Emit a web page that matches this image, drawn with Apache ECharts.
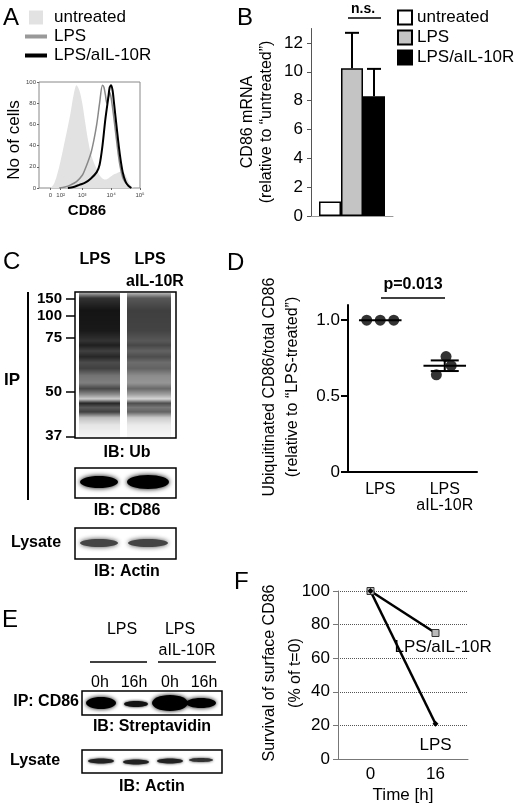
<!DOCTYPE html>
<html><head><meta charset="utf-8">
<script src="https://cdn.jsdelivr.net/npm/echarts@6/dist/echarts.min.js"></script>
<style>html,body{margin:0;padding:0;background:#fff}#c{width:520px;height:812px}</style>
</head><body><div id="c"></div>
<script>
// ---- Panel A: flow histogram (x in log10 units) ----
const histUntreated=[[1.9,0],[2.0,3],[2.1,10],[2.2,20],[2.3,32],[2.4,45],[2.5,58],[2.6,72],[2.7,88],[2.8,97],[2.9,92],[3.0,80],[3.1,62],[3.2,45],[3.3,32],[3.4,24],[3.5,18],[3.6,12],[3.7,9],[3.8,8],[3.9,9],[4.0,11],[4.1,13],[4.2,14],[4.3,15],[4.4,15],[4.5,12],[4.6,6],[4.7,2],[4.8,0]];
const histLPS=[[2.2,0],[2.4,1],[2.6,3],[2.8,6],[3.0,12],[3.1,18],[3.2,25],[3.3,33],[3.4,45],[3.5,60],[3.6,80],[3.7,97],[3.75,95],[3.8,88],[3.85,80],[3.9,85],[3.95,90],[4.0,85],[4.1,65],[4.2,42],[4.3,22],[4.4,10],[4.5,5],[4.6,2],[4.7,0]];
const histAIL=[[2.5,0],[2.7,1],[2.9,3],[3.1,5],[3.3,9],[3.5,15],[3.6,22],[3.7,40],[3.8,65],[3.9,85],[3.95,95],[4.0,97],[4.05,92],[4.1,80],[4.2,55],[4.3,32],[4.4,15],[4.5,6],[4.6,2],[4.7,0]];
const histTickVals=[1.9,2.25,3,4,5];
const histTickLabels=['0','10²','10³','10⁴','10⁵'];
// ---- Panel B: CD86 mRNA ----
const bNames=['untreated','LPS','LPS/aIL-10R'];
const bMeans=[1,10.25,8.3];
const bErrs=[0,2.45,1.9];
// ---- Panel D: ubiquitination ----
const dCats=['LPS','LPS\naIL-10R'];
const dLPS=[1.0,1.0,1.0];
const dAIL=[0.76,0.70,0.64];
const dJitterLPS=[-0.21,0,0.21];
const dJitterAIL=[0.02,0.1,-0.13];
const dMeans=[1.0,0.70];
const dSEM=[0,0.035];
// ---- Panel F: surface survival ----
const fTimes=['0','16'];
const fLPS=[100,21];
const fAIL=[100,75];

const FF='"Liberation Sans", Arial, sans-serif';
const chart=echarts.init(document.getElementById('c'));
const T=(x,y,text,o={})=>({type:'text',x,y,style:Object.assign({text,fontFamily:FF,fontSize:16,fill:'#000',textAlign:'left',textVerticalAlign:'middle'},o.style||{}),rotation:o.rotation||0,z:10});
const TB=(x,y,text,size,align)=>T(x,y,text,{style:{fontWeight:'bold',fontSize:size||16,textAlign:align||'center'}});
const rect=(x,y,w,h)=>({type:'rect',shape:{x,y,width:w,height:h},style:{fill:'none',stroke:'#000',lineWidth:1.5},z:12});
const band=(cx,cy,rx,ry,col,blur)=>({type:'ellipse',shape:{cx,cy,rx,ry},style:{fill:col,shadowBlur:blur||4,shadowColor:col},z:11});
const line=(x1,y1,x2,y2,w)=>({type:'line',shape:{x1,y1,x2,y2},style:{stroke:'#000',lineWidth:w||1.5},z:12});
function laneGrad(k){
  const s=[[0,0.35],[0.035,0.8],[0.12,0.92],[0.26,0.9],[0.33,0.8],[0.36,0.88],[0.4,0.75],[0.44,0.85],[0.48,0.7],[0.52,0.75],[0.57,0.55],[0.62,0.5],[0.66,0.72],[0.7,0.45],[0.73,0.2],[0.76,0.85],[0.79,0.65],[0.82,0.75],[0.86,0.25],[0.91,0.1],[1,0.04]];
  return new echarts.graphic.LinearGradient(0,0,0,1,s.map(([o,a])=>({offset:o,color:'rgba(0,0,0,'+(a*k).toFixed(3)+')'})));
}
const graphics=[
  T(3,18,'A',{style:{fontSize:24}}), T(237,18,'B',{style:{fontSize:24}}),
  T(3,262,'C',{style:{fontSize:24}}), T(227,263,'D',{style:{fontSize:24}}),
  T(2,620,'E',{style:{fontSize:24}}), T(234,582,'F',{style:{fontSize:24}}),
  T(14,140,'No of cells',{rotation:Math.PI/2,style:{fontSize:17,textAlign:'center'}}),
  TB(87,211,'CD86',15),
  T(248,122,'CD86 mRNA',{rotation:Math.PI/2,style:{fontSize:16,textAlign:'center'}}),
  T(267,122,'(relative to “untreated”)',{rotation:Math.PI/2,style:{fontSize:16,textAlign:'center'}}),
  TB(363,9,'n.s.',14), line(348,18,381,18,1.5),
  // C
  TB(95,260,'LPS',16), TB(150,260,'LPS',16), TB(155,282,'aIL-10R',16),
  TB(12,380,'IP',17), line(28,292,28,500,2),
  TB(62,299,'150',15,'right'),TB(62,316,'100',15,'right'),TB(62,338,'75',15,'right'),TB(62,392,'50',15,'right'),TB(62,436,'37',15,'right'),
  line(66,299,75,299),line(66,316,75,316),line(66,338,75,338),line(66,392,75,392),line(66,437,75,437),
  {type:'rect',shape:{x:79,y:293,width:41,height:145},style:{fill:laneGrad(1)},z:11},
  {type:'rect',shape:{x:127,y:293,width:44,height:145},style:{fill:laneGrad(0.82)},z:11},
  rect(75,292,101,146), TB(127,453,'IB: Ub',16),
  band(99,482,19,6,'#000',5), band(148,482,21,7,'#000',5), rect(75,468,101,30), TB(127,511,'IB: CD86',16),
  band(99,543,19,4,'#444',5), band(148,543,20,4,'#444',5), rect(75,528,101,31), TB(36,543,'Lysate',16), TB(127,572,'IB: Actin',16),
  // E
  T(122,630,'LPS',{style:{fontSize:16,textAlign:'center'}}), T(180,630,'LPS',{style:{fontSize:16,textAlign:'center'}}), T(187,651,'aIL-10R',{style:{fontSize:16,textAlign:'center'}}),
  line(90,662,147,662), line(158,662,216,662),
  T(100,683,'0h',{style:{fontSize:16,textAlign:'center'}}),T(134,683,'16h',{style:{fontSize:16,textAlign:'center'}}),T(170,683,'0h',{style:{fontSize:16,textAlign:'center'}}),T(204,683,'16h',{style:{fontSize:16,textAlign:'center'}}),
  band(101,703,15,6,'#000',4), band(136,704,12,3,'#111',3), band(170,703,18,8,'#000',4), band(201,703,15,5,'#000',4),
  rect(82,691,140,24), TB(79,702,'IP: CD86',16,'right'), TB(152,727,'IB: Streptavidin',16),
  band(101,761,13,2.5,'#222',3), band(136,762,13,2.5,'#222',3), band(170,761,13,2.5,'#222',3), band(201,760,12,2,'#333',3),
  rect(82,750,140,23), TB(35,761,'Lysate',16), TB(152,787,'IB: Actin',16),
  // D
  TB(413,285,'p=0.013',16), line(381,298,445,298,1.5),
  T(270,387,'Ubiquitinated CD86/total CD86',{rotation:Math.PI/2,style:{fontSize:16,textAlign:'center'}}),
  T(293,387,'(relative to “LPS-treated”)',{rotation:Math.PI/2,style:{fontSize:16,textAlign:'center'}}),
  // F
  T(270,673,'Survival of surface CD86',{rotation:Math.PI/2,style:{fontSize:16,textAlign:'center'}}),
  T(296,673,'(% of t=0)',{rotation:Math.PI/2,style:{fontSize:16,textAlign:'center'}}),
  T(403,795,'Time [h]',{style:{fontSize:17,textAlign:'center'}})
];
const option={
  animation:false,
  textStyle:{fontFamily:FF},
  graphic:graphics,
  legend:[
    {left:20,top:4,orient:'vertical',itemGap:2,itemWidth:22,itemHeight:14,textStyle:{fontFamily:FF,fontSize:17,color:'#000',padding:[0,0,0,2]},
     formatter:n=>n.slice(2),selectedMode:false,
     data:[{name:'A:untreated',icon:'path://M0,0h14v14h-14z',itemStyle:{color:'#e2e2e2'}},
           {name:'A:LPS',icon:'path://M0,0h22v4h-22z',itemStyle:{color:'#999'}},
           {name:'A:LPS/aIL-10R',icon:'path://M0,0h22v4h-22z',itemStyle:{color:'#000'}}]},
    {left:392,top:4,orient:'vertical',itemGap:3,itemWidth:14,itemHeight:14,textStyle:{fontFamily:FF,fontSize:17,color:'#000'},
     formatter:n=>n.slice(2),selectedMode:false,icon:'rect',
     data:['B:untreated','B:LPS','B:LPS/aIL-10R']}
  ],
  grid:[
    {left:39,top:82,width:101,height:106,show:true,borderColor:'#888',borderWidth:1},
    {left:311,top:28.5,width:82,height:187.5},
    {left:348,top:305,width:129,height:167},
    {left:338,top:591,width:130,height:168}
  ],
  xAxis:[
    {gridIndex:0,type:'value',min:1.5,max:5,axisLine:{show:false},splitLine:{show:false},
     axisTick:{customValues:histTickVals,length:2,lineStyle:{color:'#666'}},
     axisLabel:{customValues:histTickVals,formatter:v=>histTickLabels[histTickVals.indexOf(v)]||'',fontSize:6,color:'#444',margin:4}},
    {gridIndex:1,type:'category',data:[''],axisLine:{lineStyle:{color:'#999'}},axisTick:{show:false},axisLabel:{show:false}},
    {gridIndex:2,type:'category',data:dCats,axisLine:{lineStyle:{color:'#000',width:2}},axisTick:{alignWithLabel:true,length:6,lineStyle:{width:2,color:'#000'}},
     axisLabel:{interval:0,fontSize:16,color:'#000',lineHeight:16,margin:10}},
    {gridIndex:2,type:'value',min:0,max:2,show:false},
    {gridIndex:3,type:'category',data:fTimes,axisLine:{lineStyle:{color:'#777'}},axisTick:{length:5,lineStyle:{color:'#777'}},
     axisLabel:{interval:0,fontSize:17,color:'#000',margin:7}}
  ],
  yAxis:[
    {gridIndex:0,type:'value',min:0,max:100,interval:20,axisLine:{show:false},splitLine:{show:false},
     axisTick:{show:true,length:2,lineStyle:{color:'#666'}},axisLabel:{fontSize:6,color:'#444',margin:3}},
    {gridIndex:1,type:'value',min:0,max:13,axisLine:{show:true,lineStyle:{color:'#555'}},splitLine:{show:false},
     axisTick:{show:true,customValues:[0,2,4,6,8,10,12],length:4,lineStyle:{color:'#555'}},
     axisLabel:{customValues:[0,2,4,6,8,10,12],fontSize:17,color:'#000',margin:8}},
    {gridIndex:2,type:'value',min:0,max:1.1,axisLine:{show:true,lineStyle:{color:'#000',width:2}},splitLine:{show:false},
     axisTick:{show:true,customValues:[0,0.5,1],length:7,lineStyle:{width:2,color:'#000'}},
     axisLabel:{customValues:[0,0.5,1],formatter:v=>v===0?'0':v.toFixed(1),fontSize:17,color:'#000',margin:8}},
    {gridIndex:3,type:'value',min:0,max:100,interval:20,axisLine:{show:true,lineStyle:{color:'#777'}},
     axisTick:{show:true,length:5,lineStyle:{color:'#777'}},
     splitLine:{lineStyle:{type:'dotted',color:'#555'}},axisLabel:{fontSize:17,color:'#000',margin:8}}
  ],
  series:[
    {name:'A:untreated',type:'line',xAxisIndex:0,yAxisIndex:0,data:histUntreated,smooth:0.3,symbol:'none',lineStyle:{width:0},areaStyle:{color:'#e2e2e2',opacity:1},itemStyle:{color:'#e2e2e2'}},
    {name:'A:LPS',type:'line',xAxisIndex:0,yAxisIndex:0,data:histLPS,smooth:0.3,symbol:'none',lineStyle:{width:1.5,color:'#888'},itemStyle:{color:'#888'}},
    {name:'A:LPS/aIL-10R',type:'line',xAxisIndex:0,yAxisIndex:0,data:histAIL,smooth:0.3,symbol:'none',lineStyle:{width:2,color:'#000'},itemStyle:{color:'#000'}},
    ...bNames.map((n,i)=>({name:'B:'+n,type:'bar',xAxisIndex:1,yAxisIndex:1,data:[bMeans[i]],barWidth:22,barGap:'0%',
      itemStyle:{color:['#fff','#c4c4c4','#000'][i],borderColor:'#000',borderWidth:1.5}})),
    {type:'custom',xAxisIndex:1,yAxisIndex:1,z:5,data:bNames.map((n,i)=>[0,bMeans[i],bErrs[i],i-1]),
     renderItem:(p,api)=>{const a=api.coord([0,api.value(1)]),b=api.coord([0,api.value(1)+api.value(2)]);
       if(api.value(2)<=0)return null; const x=a[0]+api.value(3)*22;
       return {type:'group',children:[{type:'line',shape:{x1:x,y1:a[1],x2:x,y2:b[1]},style:{stroke:'#000',lineWidth:2}},
         {type:'line',shape:{x1:x-7,y1:b[1],x2:x+7,y2:b[1]},style:{stroke:'#000',lineWidth:2}}]};}},
    {type:'scatter',xAxisIndex:3,yAxisIndex:2,symbolSize:11,itemStyle:{color:'#000'},z:6,
     data:dLPS.map((v,i)=>[0.5+dJitterLPS[i],v]).concat(dAIL.map((v,i)=>[1.5+dJitterAIL[i],v]))},
    {type:'custom',xAxisIndex:3,yAxisIndex:2,z:5,data:dMeans.map((m,i)=>[0.5+i,m,dSEM[i]]),
     renderItem:(p,api)=>{const c=api.value(0),m=api.value(1),s=api.value(2);
       const L=api.coord([c-0.33,m]),R=api.coord([c+0.33,m]);const ch=[{type:'line',shape:{x1:L[0],y1:L[1],x2:R[0],y2:R[1]},style:{stroke:'#000',lineWidth:2}}];
       if(s>0){const t=api.coord([c,m+s]),b=api.coord([c,m-s]),w=14;
         ch.push({type:'line',shape:{x1:t[0],y1:t[1],x2:b[0],y2:b[1]},style:{stroke:'#000',lineWidth:2}},
           {type:'line',shape:{x1:t[0]-w,y1:t[1],x2:t[0]+w,y2:t[1]},style:{stroke:'#000',lineWidth:2}},
           {type:'line',shape:{x1:b[0]-w,y1:b[1],x2:b[0]+w,y2:b[1]},style:{stroke:'#000',lineWidth:2}});}
       return {type:'group',children:ch};}},
    {name:'F:LPS/aIL-10R',type:'line',xAxisIndex:4,yAxisIndex:3,data:fAIL,symbol:'rect',symbolSize:7,
     lineStyle:{color:'#000',width:2.5},itemStyle:{color:'#bbb',borderColor:'#333',borderWidth:1},
     label:{show:true,formatter:p=>p.dataIndex===1?'LPS/aIL-10R':'',position:[-37,10],align:'left',verticalAlign:'top',fontSize:17,color:'#000',fontFamily:FF}},
    {name:'F:LPS',type:'line',xAxisIndex:4,yAxisIndex:3,data:fLPS,symbol:'diamond',symbolSize:6,
     lineStyle:{color:'#000',width:2.5},itemStyle:{color:'#000'},
     label:{show:true,formatter:p=>p.dataIndex===1?'LPS':'',position:'bottom',distance:10,fontSize:17,color:'#000',fontFamily:FF}}
  ]
};
chart.setOption(option);
</script></body></html>
